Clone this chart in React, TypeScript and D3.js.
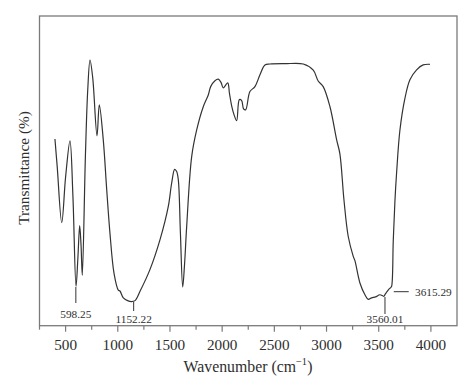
import React from "react";
import * as d3 from "d3";

// Wavenumber (cm^-1) and transmittance (%, relative)
const wavenumbers = [
  398, 420, 463, 500, 542, 570, 600, 618, 635, 648, 660, 690, 712, 734, 760, 801, 823, 861, 894, 925, 964,
  1005, 1021, 1053, 1100, 1130, 1165, 1213, 1308, 1404, 1484, 1516, 1545, 1564, 1580, 1600, 1622, 1640, 1660,
  1708, 1756, 1819, 1867, 1890, 1931, 1963, 1990, 2010, 2053, 2070, 2091, 2115, 2139, 2165, 2187, 2205, 2225,
  2266, 2314, 2362, 2410, 2458, 2600, 2777, 2873, 2920, 2968, 3033, 3097, 3128, 3167, 3208, 3256, 3272, 3320,
  3368, 3400, 3432, 3470, 3511, 3550, 3562, 3575, 3600, 3615, 3624, 3639, 3655, 3671, 3703, 3751, 3799, 3863,
  3926, 3990,
];
const transmittance = [
  60.3, 51.2, 33.3, 48.0, 59.7, 42.0, 12.7, 22.0, 32.3, 26.0, 16.3, 55.0, 76.0, 85.8, 80.0, 61.3, 71.3, 60.0,
  43.9, 29.9, 16.9, 11.5, 11.2, 9.0, 8.0, 7.8, 8.1, 11.1, 18.1, 27.7, 38.5, 46.0, 50.5, 49.8, 47.1, 30.0, 12.5,
  20.0, 32.0, 54.6, 63.2, 70.7, 74.5, 77.2, 79.1, 79.6, 78.5, 76.8, 78.4, 75.0, 71.0, 68.0, 66.2, 73.0, 72.7,
  70.0, 69.7, 75.6, 77.2, 81.0, 84.2, 84.5, 84.6, 84.5, 82.5, 79.0, 77.2, 70.7, 60.0, 55.5, 40.6, 28.8, 22.4,
  21.0, 13.8, 10.0, 8.5, 9.0, 9.3, 10.0, 9.5, 10.2, 10.8, 11.9, 12.3, 12.8, 27.0, 40.0, 49.2, 63.1, 73.4, 79.4,
  82.6, 84.2, 84.4,
];

const xTicks = [500, 1000, 1500, 2000, 2500, 3000, 3500, 4000];
const xMinorTicks = [250, 750, 1250, 1750, 2250, 2750, 3250, 3750];

// Peak annotations
const peakLabels = ["598.25", "1152.22", "3560.01", "3615.29"];
const peakPositions = [598.25, 1152.22, 3560.01, 3615.29];

const W = 474;
const H = 391;
const M = { left: 39.5, right: 457, top: 16, bottom: 325.7 };
const serif = "'Liberation Serif', 'DejaVu Serif', serif";

export default function App() {
  const x = d3.scaleLinear().domain([250, 4250]).range([M.left, M.right]);
  const y = d3.scaleLinear().domain([0, 100]).range([M.bottom, M.top]);

  const data = wavenumbers.map((w, i) => [w, transmittance[i]] as [number, number]);
  const line = d3
    .line<[number, number]>()
    .x((d) => x(d[0]))
    .y((d) => y(d[1]))
    .curve(d3.curveCatmullRom.alpha(0.5));

  const axisColor = "#7a7a7a";
  const curveColor = "#333";
  const textColor = "#2e2e2e";

  const px = peakPositions.map((p) => x(p));

  return (
    <svg
      width={W}
      height={H}
      style={{ position: "absolute", left: 0, top: 0, background: "#fff" }}
      fontFamily={serif}
    >
      <rect
        x={M.left}
        y={M.top}
        width={M.right - M.left}
        height={M.bottom - M.top}
        fill="none"
        stroke={axisColor}
        strokeWidth={1.3}
      />
      {xTicks.map((t) => (
        <g key={t}>
          <line x1={x(t)} x2={x(t)} y1={M.bottom} y2={M.bottom + 6} stroke={axisColor} strokeWidth={1.2} />
          <text x={x(t)} y={344} textAnchor="middle" dominantBaseline="central" fontSize={15.2} fill={textColor}>
            {t}
          </text>
        </g>
      ))}
      {xMinorTicks.map((t) => (
        <line key={t} x1={x(t)} x2={x(t)} y1={M.bottom} y2={M.bottom + 4} stroke={axisColor} strokeWidth={1.2} />
      ))}
      <text x={248} y={366} textAnchor="middle" dominantBaseline="central" fontSize={15.8} fill={textColor}>
        Wavenumber (cm
        <tspan dy={-5} fontSize={10.5}>−1</tspan>
        <tspan dy={5}>)</tspan>
      </text>
      <text
        transform={`translate(23,168) rotate(-90)`}
        textAnchor="middle"
        dominantBaseline="central"
        fontSize={15.3}
        fill={textColor}
      >
        Transmittance (%)
      </text>

      <path d={line(data) ?? ""} fill="none" stroke={curveColor} strokeWidth={1.2} />

      {/* annotations */}
      <line x1={px[0]} x2={px[0]} y1={287} y2={303} stroke={curveColor} strokeWidth={1} />
      <text x={px[0]} y={314} textAnchor="middle" dominantBaseline="central" fontSize={11.3} fill={textColor}>
        {peakLabels[0]}
      </text>
      <line x1={px[1]} x2={px[1]} y1={302} y2={311} stroke={curveColor} strokeWidth={1} />
      <text x={px[1]} y={319} textAnchor="middle" dominantBaseline="central" fontSize={11.3} fill={textColor}>
        {peakLabels[1]}
      </text>
      <line x1={px[2]} x2={px[2]} y1={297} y2={314} stroke={curveColor} strokeWidth={1} />
      <text x={px[2]} y={319} textAnchor="middle" dominantBaseline="central" fontSize={11.3} fill={textColor}>
        {peakLabels[2]}
      </text>
      <line x1={px[3] + 3} x2={px[3] + 18} y1={291.7} y2={291.7} stroke={curveColor} strokeWidth={1} />
      <text x={415} y={291.7} textAnchor="start" dominantBaseline="central" fontSize={11.3} fill={textColor}>
        {peakLabels[3]}
      </text>
    </svg>
  );
}
